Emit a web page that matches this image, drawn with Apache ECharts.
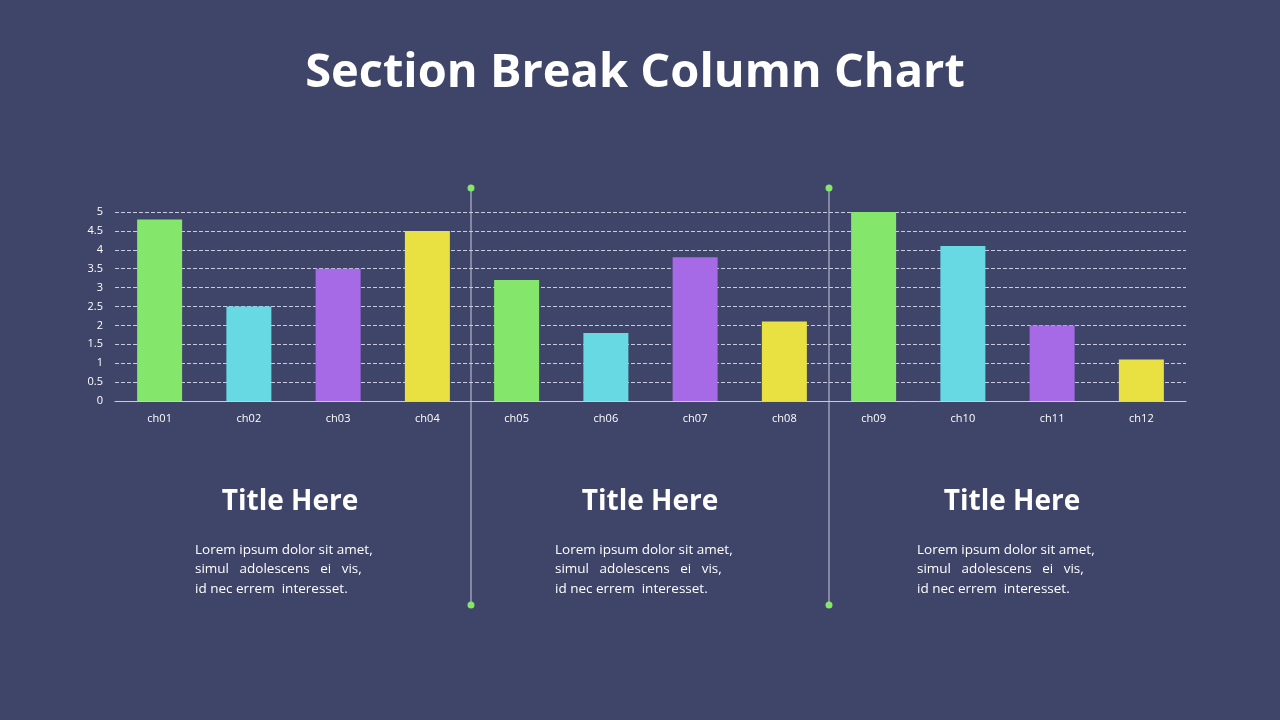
<!DOCTYPE html>
<html><head><meta charset="utf-8">
<script src="https://cdn.jsdelivr.net/npm/echarts@6/dist/echarts.min.js"></script>
<style>html,body{margin:0;padding:0;background:#3f4469}#c{width:1280px;height:720px}</style>
</head><body><div id="c"></div>
<script>
const categories=['ch01','ch02','ch03','ch04','ch05','ch06','ch07','ch08','ch09','ch10','ch11','ch12'];
const values=[4.8,2.5,3.5,4.5,3.2,1.8,3.8,2.1,5.0,4.1,2.0,1.1];
const colors=['#84e76b','#66d9e3','#a66ae6','#e8e141'];
const sectionTitles=['Title Here','Title Here','Title Here'];
const bodyText='Lorem ipsum dolor sit amet,\nsimul   adolescens   ei   vis,\nid nec errem  interesset.';
const font='"Open Sans", sans-serif';
const chart=echarts.init(document.getElementById('c'));
const g=[];
[471,829].forEach(x=>{
  g.push({type:'line',shape:{x1:x,y1:188,x2:x,y2:605},style:{stroke:'#c8cbe0',lineWidth:1}});
  g.push({type:'circle',shape:{cx:x,cy:188,r:3.5},style:{fill:'#84e76b'}});
  g.push({type:'circle',shape:{cx:x,cy:605,r:3.5},style:{fill:'#84e76b'}});
});
[290,650,1012].forEach((cx,i)=>{
  g.push({type:'text',x:cx,y:502,style:{text:sectionTitles[i],fill:'#fff',font:'bold 28px '+font,textAlign:'center',textVerticalAlign:'middle'}});
  g.push({type:'text',x:cx-95,y:540,style:{text:bodyText,fill:'#fff',font:'13.5px '+font,lineHeight:19.5,textAlign:'left'}});
});
chart.setOption({
  backgroundColor:'#3f4469',
  title:{text:'Section Break Column Chart',left:630,textAlign:'center',top:45,textStyle:{color:'#fff',fontSize:47,fontWeight:'bold',fontFamily:font}},
  grid:{left:115,right:94,top:212,bottom:319,containLabel:false},
  xAxis:{type:'category',data:categories,axisLine:{lineStyle:{color:'#c8cbe0'}},axisTick:{show:false},
    axisLabel:{color:'#fff',fontSize:11,fontFamily:font,margin:12}},
  yAxis:{type:'value',min:0,max:5,interval:0.5,axisLine:{show:false},axisTick:{show:false},
    axisLabel:{color:'#fff',fontSize:11,fontFamily:font,margin:12},
    splitLine:{lineStyle:{color:'#c8cbe0',type:'dashed',width:1}}},
  series:[{type:'bar',data:values,barWidth:45,
    itemStyle:{color:p=>colors[p.dataIndex%4]}}],
  graphic:g
});
</script></body></html>
